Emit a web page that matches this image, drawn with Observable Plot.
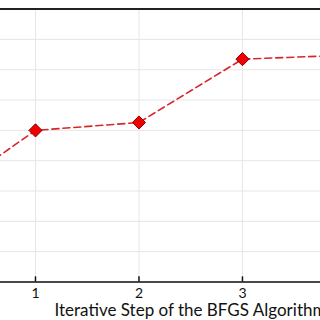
<!DOCTYPE html>
<html>
<head>
<meta charset="utf-8">
<script src="https://cdn.jsdelivr.net/npm/d3@7"></script>
<script src="https://cdn.jsdelivr.net/npm/@observablehq/plot@0.6"></script>
<style>
  html, body { margin: 0; padding: 0; background: #fff; }
  svg { display: block; }
</style>
</head>
<body>
<div id="chart"></div>
<script>
// Data (y values; y axis is cut off in the reference)
const steps = [0, 1, 2, 3, 4];
const values = [2.6, 5.0, 5.26, 7.35, 7.48];
const xTicks = [1, 2, 3];
const yGrid = [0, 1, 2, 3, 4, 5, 6, 7, 8, 9];
const axisTitle = "Iterative Step of the BFGS Algorithm";

const data = steps.map((s, i) => ({step: s, value: values[i]}));

const chart = Plot.plot({
  width: 320,
  height: 320,
  marginLeft: 0,
  marginRight: 0,
  marginTop: 8.6,
  marginBottom: 38.5,
  style: {fontFamily: "Lato, 'Open Sans', sans-serif", background: "#fff", color: "#111"},
  x: {domain: [0.662, 3.754], axis: null},
  y: {domain: [0, 9], axis: null},
  marks: [
    Plot.gridY(yGrid, {stroke: "#e6e6e6", strokeOpacity: 1, strokeWidth: 1}),
    Plot.gridX(xTicks, {stroke: "#e6e6e6", strokeOpacity: 1, strokeWidth: 1}),
    Plot.ruleY([9], {stroke: "#222", strokeWidth: 2}),
    Plot.ruleY([0], {stroke: "#111", strokeWidth: 1.5}),
    Plot.ruleX(xTicks, {y1: 0, y2: 0.17, stroke: "#111", strokeWidth: 1.5}),
    Plot.axisX({ticks: xTicks, tickSize: 0, tickPadding: 6, fontSize: 14, label: null, tickFormat: d => String(d)}),
    Plot.line(data, {x: "step", y: "value", stroke: "#d7262b", strokeWidth: 1.6, strokeDasharray: "7,4", clip: true}),
    Plot.dot(data, {x: "step", y: "value", symbol: "diamond2", r: 5.9, fill: "#f00000", stroke: "#8b0000", strokeWidth: 1, clip: true}),
    Plot.text([axisTitle], {frameAnchor: "bottom-left", textAnchor: "start", lineAnchor: "middle", dx: 54, dy: 28.5, fontSize: 17, fill: "#111"})
  ]
});
document.getElementById("chart").appendChild(chart);
</script>
</body>
</html>
